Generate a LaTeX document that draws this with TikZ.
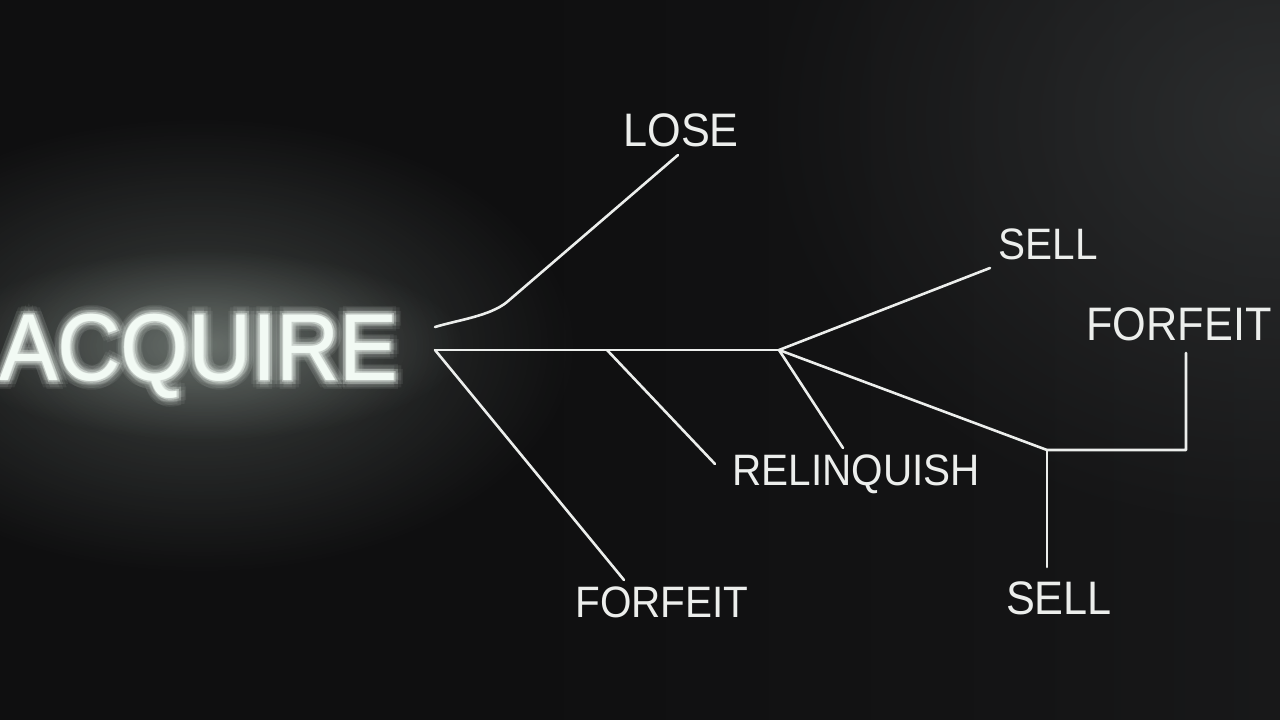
\documentclass[tikz,border=0pt]{standalone}
\usepackage{fontspec}
\setmainfont[FakeStretch=0.92]{Liberation Sans}
\newfontfamily\halofontA[FakeStretch=0.92,FakeBold=8]{Liberation Sans}
\newfontfamily\halofontB[FakeStretch=0.92,FakeBold=3.5]{Liberation Sans}
\usetikzlibrary{fadings}
\tikzfading[name=glowfade, inner color=transparent!76, outer color=transparent!100]
\tikzfading[name=glowfadeB, inner color=transparent!68, outer color=transparent!100]
\tikzfading[name=cornerfade, inner color=transparent!20, outer color=transparent!100]
\definecolor{bgdark}{RGB}{15,15,16}
\definecolor{bgmid}{RGB}{20,20,21}
\definecolor{bgright}{RGB}{34,35,36}
\definecolor{bgcorner}{RGB}{48,50,51}
\definecolor{txt}{RGB}{236,238,236}
\definecolor{glowcol}{RGB}{200,215,205}
\pgfdeclarehorizontalshading{bgshade}{100bp}{color(0bp)=(bgdark); color(45bp)=(bgdark); color(65bp)=(bgmid); color(100bp)=(bgright)}
\tikzset{
  branch/.style={draw=txt, line width=2.6pt, line cap=round, line join=round},
  lbl/.style={text=txt, inner sep=0pt, anchor=base, font=\fontsize{44}{48}\selectfont},
  biglbl/.style={lbl, font=\fontsize{47}{50}\selectfont},
  hero/.style={text={rgb,255:red,242;green,250;blue,244}, inner sep=0pt, anchor=base east, font=\fontsize{95}{100}\selectfont},
}
\begin{document}
\begin{tikzpicture}[x=1pt,y=-1pt]
\useasboundingbox (0,0) rectangle (1280,720);
% background
\shade[shading=bgshade] (0,0) rectangle (1280,720);
\begin{scope}
  \clip (0,0) rectangle (1280,720);
  \fill[bgcorner, path fading=cornerfade] (1280,120) ellipse [x radius=520, y radius=420];
\end{scope}
% glow behind ACQUIRE
\fill[glowcol, path fading=glowfade] (200,345) ellipse [x radius=380, y radius=230];
\fill[glowcol, path fading=glowfadeB] (205,345) ellipse [x radius=260, y radius=95];
% ACQUIRE with halo
\foreach \a in {0,45,...,315}{
  \node[hero, opacity=0.07, font=\fontsize{95}{100}\halofontA] at ([shift={(\a:5)}]398,380) {ACQUIRE};
}
\node[hero, opacity=0.15, font=\fontsize{95}{100}\halofontA] (acqhaloA) at (398,380) {ACQUIRE};
\node[hero, opacity=0.4, font=\fontsize{95}{100}\halofontB] (acqhaloB) at (398,380) {ACQUIRE};
\node[hero] (acq) at (398,380) {ACQUIRE};
% labels
\node[biglbl] (lose) at (681,146) {LOSE};
\node[lbl] (sellA) at (1048,259) {SELL};
\node[biglbl] (forfA) at (1179,340) {FORFEIT};
\node[lbl] (relq) at (856,485) {RELINQUISH};
\node[lbl] (forfB) at (662,617) {FORFEIT};
\node[biglbl] (sellB) at (1059,614) {SELL};
% connector points
\coordinate (pLose) at (435,327);
\coordinate (pBend) at (507,302);
\coordinate (eLose) at (678,155);
\coordinate (pMain) at (435,350);
\coordinate (jA) at (607,350);
\coordinate (jB) at (779,350);
\coordinate (eForfB) at (624,580);
\coordinate (eA) at (715,464);
\coordinate (eSellA) at (990,268);
\coordinate (eRelq) at (843,448);
\coordinate (jC) at (1047,450);
\coordinate (jD) at (1186,450);
\coordinate (eForfA) at (1186,353);
\coordinate (eSellB) at (1047,567);
% connectors
\draw[branch] (pLose) .. controls (458,320) and (490,316) .. (pBend) -- (eLose);
\draw[branch] (pMain) -- (jA) -- (jB);
\draw[branch] (pMain) -- (eForfB);
\draw[branch] (jA) -- (eA);
\draw[branch] (jB) -- (eSellA);
\draw[branch] (jB) -- (eRelq);
\draw[branch] (jB) -- (jC) -- (jD) -- (eForfA);
\draw[branch] (jC) -- (eSellB);
\end{tikzpicture}
\end{document}
